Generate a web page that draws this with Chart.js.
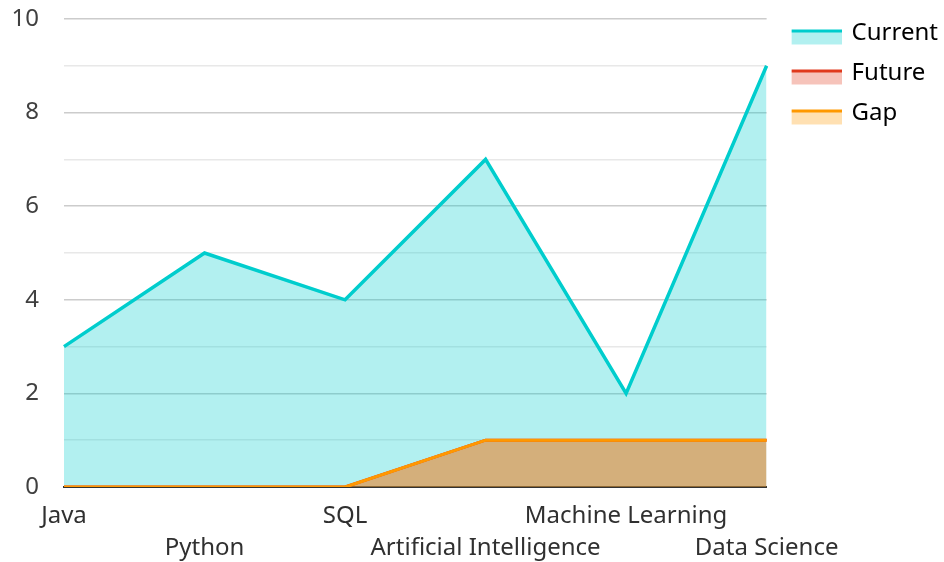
<!DOCTYPE html>
<html lang="en">
<head>
    <meta charset="UTF-8">
    <title>Skill Gap</title>
    <script src="https://cdn.jsdelivr.net/npm/chart.js"></script>
    <style>
        html, body { margin: 0; padding: 0; background: #fff; }
        #wrap { width: 944px; height: 562px; }
    </style>
</head>
<body>
    <div id="wrap"><canvas id="gapChart" width="944" height="562"></canvas></div>

    <script>
        // Skills on the x axis
        const skills = ['Java', 'Python', 'SQL', 'Artificial Intelligence', 'Machine Learning', 'Data Science'];

        // Series values
        const currentLevel = [3, 5, 4, 7, 2, 9];
        const futureLevel = [0, 0, 0, 1, 1, 1];
        const gapLevel = [0, 0, 0, 1, 1, 1];

        // y axis tick labels (only even values get a label)
        const yLabels = ['0', '2', '4', '6', '8', '10'];

        const colors = {
            current: '#00cdcd',
            future: '#e0391c',
            gap: '#ff9800'
        };

        function fade(hex, a) {
            const n = parseInt(hex.slice(1), 16);
            return `rgba(${n >> 16}, ${(n >> 8) & 255}, ${n & 255}, ${a})`;
        }

        // legend swatch: thick line on top, light fill below
        // (drawn a bit to the right and low inside its canvas)
        function swatch(color) {
            const c = document.createElement('canvas');
            c.width = 61; c.height = 27;
            const g = c.getContext('2d');
            g.fillStyle = fade(color, 0.3);
            g.fillRect(11, 12, 50, 13);
            g.fillStyle = color;
            g.fillRect(11, 10, 50, 3);
            return c;
        }

        Chart.defaults.font.family = '"Noto Sans", sans-serif';
        Chart.defaults.font.size = 24;
        Chart.defaults.color = '#404040';

        const ctx = document.getElementById('gapChart').getContext('2d');
        new Chart(ctx, {
            type: 'line',
            data: {
                labels: skills,
                datasets: [{
                    label: 'Current',
                    data: currentLevel,
                    borderColor: colors.current,
                    backgroundColor: fade(colors.current, 0.3),
                    borderWidth: 3.5,
                    fill: 'origin',
                    pointRadius: 0,
                    tension: 0,
                    order: 3
                }, {
                    label: 'Future',
                    data: futureLevel,
                    borderColor: colors.future,
                    backgroundColor: fade(colors.future, 0.3),
                    borderWidth: 3,
                    fill: 'origin',
                    pointRadius: 0,
                    tension: 0,
                    order: 2
                }, {
                    label: 'Gap',
                    data: gapLevel,
                    borderColor: colors.gap,
                    backgroundColor: fade(colors.gap, 0.3),
                    borderWidth: 3,
                    fill: 'origin',
                    pointRadius: 0,
                    tension: 0,
                    order: 1
                }]
            },
            options: {
                responsive: false,
                animation: false,
                layout: { padding: { top: 5, left: 12, right: -4, bottom: 0 } },
                plugins: {
                    tooltip: { enabled: false },
                    legend: {
                        position: 'right',
                        align: 'start',
                        labels: {
                            usePointStyle: true,
                            pointStyleWidth: 57,
                            padding: 16,
                            color: '#303030',
                            font: { size: 24 },
                            generateLabels: (chart) => chart.data.datasets.map((ds, i) => ({
                                text: ds.label,
                                pointStyle: swatch(ds.borderColor),
                                fillStyle: ds.backgroundColor,
                                strokeStyle: ds.borderColor,
                                lineWidth: 0,
                                hidden: false,
                                datasetIndex: i
                            }))
                        }
                    }
                },
                scales: {
                    x: {
                        offset: false,
                        grid: { display: false, drawTicks: false },
                        border: { display: true, color: '#333333', width: 2 },
                        ticks: {
                            autoSkip: false,
                            maxRotation: 0,
                            padding: 13,
                            color: '#303030',
                            font: { size: 24, lineHeight: 1.34 },
                            callback: (v, i) => i % 2 === 0 ? skills[i] : ['', skills[i]]
                        },
                        afterFit: (s) => { s.height = 75; }
                    },
                    y: {
                        min: 0,
                        max: 10,
                        grid: {
                            drawTicks: false,
                            color: (c) => c.tick.value % 2 === 0 ? '#cccccc' : '#e8e8e8',
                            lineWidth: 1.5
                        },
                        border: { display: false },
                        ticks: {
                            stepSize: 1,
                            padding: 25,
                            color: '#404040',
                            callback: (v) => v % 2 === 0 ? yLabels[v / 2] : ''
                        },
                        afterFit: (s) => { s.width = 52; s.paddingTop = 19; s.paddingBottom = 0; }
                    }
                }
            }
        });
    </script>
</body>
</html>
